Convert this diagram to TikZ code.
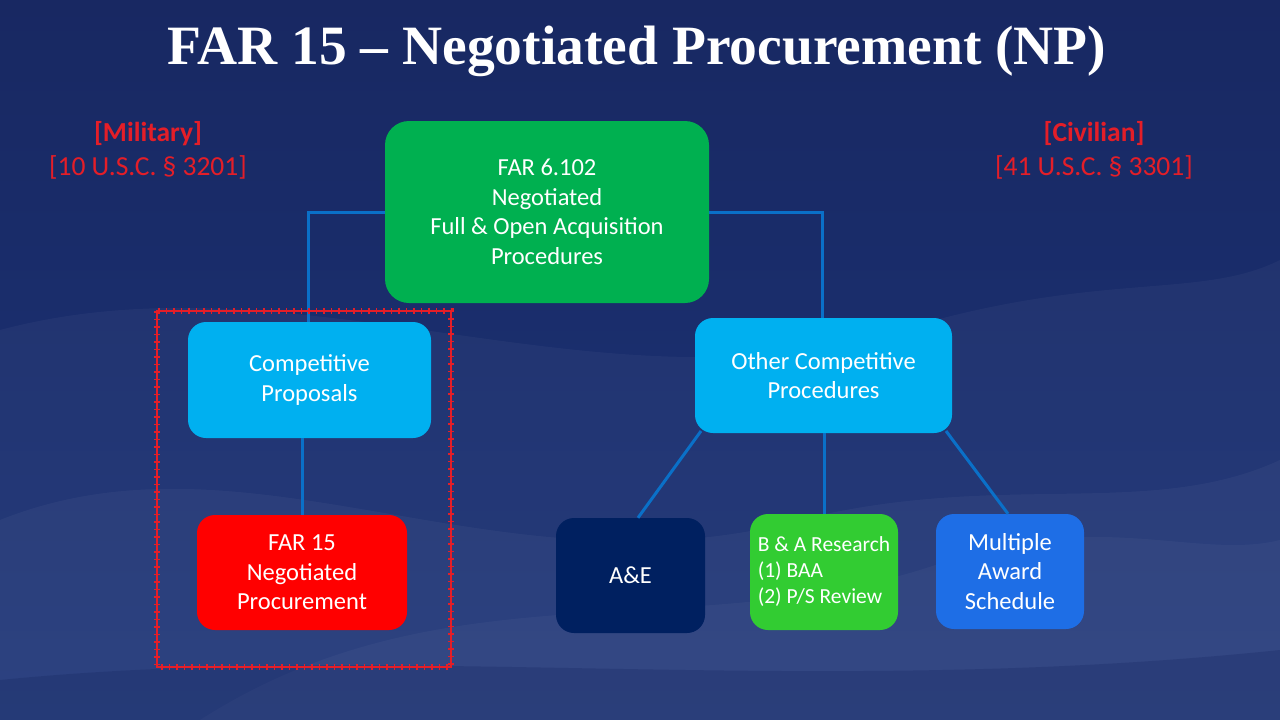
\documentclass[tikz,border=0pt]{standalone}
\usepackage{fontspec}
\setmainfont{Carlito}
\newfontfamily\titlefont{Liberation Serif}
\begin{document}
\begin{tikzpicture}[x=1pt,y=-1pt,
  box/.style={rounded corners=18pt,align=center,text=white,font=\fontsize{24.5}{29.5}\selectfont,inner sep=0pt},
  conn/.style={draw=connblue,line width=3pt},
  lawtxt/.style={text=lawred,align=center,font=\fontsize{27.5}{34}\selectfont}]
\definecolor{bgtop}{RGB}{24,40,98}
\definecolor{bgbot}{RGB}{28,52,120}
\definecolor{connblue}{RGB}{10,112,200}
\definecolor{topgreen}{RGB}{0,176,80}
\definecolor{lightblue}{RGB}{0,176,240}
\definecolor{navy}{RGB}{0,32,96}
\definecolor{brightgreen}{RGB}{50,204,50}
\definecolor{masblue}{RGB}{30,110,230}
\definecolor{lawred}{RGB}{228,30,40}
% background
\useasboundingbox (0,0) rectangle (1280,720);
\shade[top color=bgtop,bottom color=bgbot] (0,0) rectangle (1280,720);
\begin{scope}
\clip (0,0) rectangle (1280,720);
\fill[white,opacity=0.035] (0,330) .. controls (300,250) and (600,420) .. (900,330) .. controls (1100,270) and (1200,300) .. (1280,260) -- (1280,720) -- (0,720) -- cycle;
\fill[white,opacity=0.04] (0,520) .. controls (250,420) and (500,600) .. (800,520) .. controls (1000,470) and (1150,520) .. (1280,460) -- (1280,720) -- (0,720) -- cycle;
\fill[white,opacity=0.035] (200,720) .. controls (450,560) and (700,650) .. (950,560) .. controls (1100,510) and (1200,560) .. (1280,540) -- (1280,720) -- cycle;
\fill[bgtop,opacity=0.3] (0,680) .. controls (400,640) and (800,700) .. (1280,650) -- (1280,720) -- (0,720) -- cycle;
\end{scope}
% title
\node[text=white,font=\titlefont\bfseries\fontsize{55.5}{60}\selectfont] (title) at (637,51) {FAR 15 – Negotiated Procurement (NP)};
% law references
\node[lawtxt] (mil) at (148,150) {\textbf{[Military]}\\{}[10 U.S.C. § 3201]};
\node[lawtxt] (civ) at (1094,150) {\textbf{[Civilian]}\\{}[41 U.S.C. § 3301]};
% boxes
\node[box,fill=topgreen,minimum width=324pt,minimum height=182pt,rounded corners=24pt] (far6) at (547,212) {FAR 6.102\\Negotiated\\Full \& Open Acquisition\\Procedures};
\node[box,fill=lightblue,minimum width=243pt,minimum height=116pt] (cp) at (309.5,380) {Competitive\\Proposals};
\node[box,fill=red,minimum width=210pt,minimum height=115pt] (far15) at (302,572.5) {FAR 15\\Negotiated\\Procurement};
\node[box,fill=lightblue,minimum width=257pt,minimum height=115pt] (ocp) at (823.5,375.5) {Other Competitive\\Procedures};
\node[box,fill=navy,minimum width=149pt,minimum height=115pt] (ae) at (630.5,575.5) {A\&E};
\node[box,fill=brightgreen,minimum width=148pt,minimum height=116pt,align=left,font=\fontsize{21.5}{26}\selectfont] (ba) at (824,572) {B \& A Research\\(1) BAA\\(2) P/S Review};
\node[box,fill=masblue,minimum width=148pt,minimum height=115pt] (mas) at (1010,571.5) {Multiple\\Award\\Schedule};
% connectors
\coordinate (lk) at (308,212);
\coordinate (rk) at (822,212);
\draw[conn] (far6.west |- lk) -- (lk) -- (lk |- cp.north);
\draw[conn] (far6.east |- rk) -- (rk) -- (rk |- ocp.north);
\draw[conn] (cp.south -| far15.north) -- (far15.north);
\draw[conn] (ocp.south -| ba.north) -- (ba.north);
\coordinate (ocpl) at (701,431);
\coordinate (ocpr) at (946,431);
\draw[conn] (ocpl) -- ([xshift=7.5pt]ae.north);
\draw[conn] (ocpr) -- ([xshift=-2pt]mas.north);
% highlight frame
\coordinate (fa) at (157,311);
\coordinate (fb) at (451,667);
\draw[lawred,line width=2.2pt] (fa) rectangle (fb);
\draw[lawred,line width=6pt,dash pattern=on 1.5pt off 6pt] (fa) rectangle (fb);
\end{tikzpicture}
\end{document}
